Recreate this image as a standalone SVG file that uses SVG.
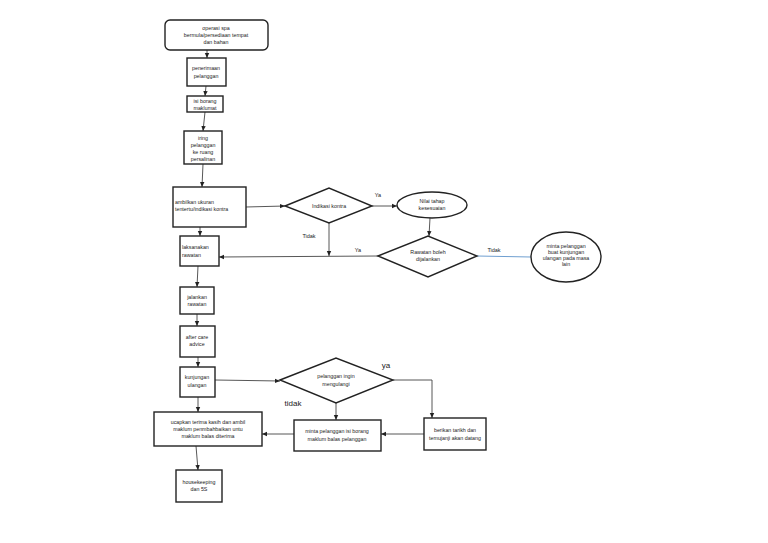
<svg xmlns="http://www.w3.org/2000/svg" width="768" height="543" viewBox="0 0 768 543">
<defs>
<style>
.n{fill:#fff;stroke:#222;stroke-width:1.4}
.t{font-family:"Liberation Sans",Arial,sans-serif;font-size:5.3px;fill:#222;text-anchor:middle}
.tl{font-family:"Liberation Sans",Arial,sans-serif;font-size:5.3px;fill:#222}
.lb{font-family:"Liberation Sans",Arial,sans-serif;font-size:5.5px;fill:#222;text-anchor:middle}
.lb2{font-family:"Liberation Sans",Arial,sans-serif;font-size:8px;fill:#222;text-anchor:middle}
.c{fill:none;stroke:#444;stroke-width:0.9}
</style>
<marker id="ah" markerWidth="6" markerHeight="6" refX="5" refY="3" orient="auto" markerUnits="userSpaceOnUse">
<path d="M0,0.8 L5,3 L0,5.2 z" fill="#222"/>
</marker>
</defs>
<rect width="768" height="543" fill="#fff"/>

<g id="connectors">
<line class="c" x1="207" y1="50" x2="207" y2="58" marker-end="url(#ah)"/>
<line class="c" x1="206" y1="86" x2="205" y2="96" marker-end="url(#ah)"/>
<line class="c" x1="205" y1="112" x2="203" y2="131" marker-end="url(#ah)"/>
<line class="c" x1="203" y1="164" x2="202" y2="187" marker-end="url(#ah)"/>
<line class="c" x1="200" y1="227" x2="200" y2="236" marker-end="url(#ah)"/>
<line class="c" x1="198" y1="266" x2="197" y2="287" marker-end="url(#ah)"/>
<line class="c" x1="197" y1="314" x2="197" y2="326" marker-end="url(#ah)"/>
<line class="c" x1="198" y1="357" x2="198" y2="367" marker-end="url(#ah)"/>
<line class="c" x1="198" y1="397" x2="198" y2="412" marker-end="url(#ah)"/>
<line class="c" x1="196" y1="446" x2="198" y2="470" marker-end="url(#ah)"/>
<line class="c" x1="246" y1="207" x2="285" y2="206" marker-end="url(#ah)"/>
<line class="c" x1="372" y1="206" x2="397" y2="206" marker-end="url(#ah)"/>
<line class="c" x1="430" y1="218" x2="429" y2="236" marker-end="url(#ah)"/>
<line class="c" x1="378" y1="256" x2="219" y2="257" marker-end="url(#ah)"/>
<line class="c" x1="329" y1="223" x2="329" y2="256" marker-end="url(#ah)"/>
<line x1="477" y1="256" x2="531" y2="257" stroke="#6f9fd0" stroke-width="1"/>
<line class="c" x1="215" y1="380" x2="280" y2="381" marker-end="url(#ah)"/>
<polyline class="c" points="393,380 432,380 432,418" marker-end="url(#ah)"/>
<line class="c" x1="336" y1="403" x2="336" y2="420" marker-end="url(#ah)"/>
<line class="c" x1="424" y1="434" x2="381" y2="434" marker-end="url(#ah)"/>
<line class="c" x1="294" y1="434" x2="262" y2="434" marker-end="url(#ah)"/>
</g>

<g id="labels">
<text class="lb" x="378" y="197">Ya</text>
<text class="lb" x="309" y="238">Tidak</text>
<text class="lb" x="358" y="252">Ya</text>
<text class="lb" x="494" y="252">Tidak</text>
<text class="lb2" x="386" y="368">ya</text>
<text class="lb2" x="293" y="406">tidak</text>
</g>

<g id="start">
<rect class="n" x="165" y="20" width="103" height="30" rx="5"/>
<text class="t" x="216" y="30">operasi  spa</text>
<text class="t" x="216" y="37">bermula/persediaan  tempat</text>
<text class="t" x="216" y="44">dan bahan</text>
</g>
<g id="penerimaan">
<rect class="n" x="187" y="58" width="39" height="28"/>
<text class="t" x="206" y="70">penerimaan</text>
<text class="t" x="206" y="78">pelanggan</text>
</g>
<g id="isiborang">
<rect class="n" x="187" y="96" width="36" height="16"/>
<text class="t" x="205" y="103">isi borang</text>
<text class="t" x="205" y="110">maklumat</text>
</g>
<g id="iring">
<rect class="n" x="184" y="131" width="38" height="33"/>
<text class="t" x="203" y="140">iring</text>
<text class="t" x="203" y="147">pelanggan</text>
<text class="t" x="203" y="154">ke ruang</text>
<text class="t" x="203" y="161">persalinan</text>
</g>
<g id="ambilkan">
<rect class="n" x="173" y="187" width="73" height="40"/>
<text class="tl" x="175" y="204">ambilkan  ukuran</text>
<text class="tl" x="175" y="211">tentertu/indikasi  kontra</text>
</g>
<g id="indikasi">
<polygon class="n" points="285,206 329,188 372,206 329,223"/>
<text class="t" x="329" y="208">Indikasi  kontra</text>
</g>
<g id="nilai">
<ellipse class="n" cx="432" cy="205" rx="35" ry="13"/>
<text class="t" x="432" y="203">Nilai tahap</text>
<text class="t" x="432" y="210">kesesuaian</text>
</g>
<g id="rawatanboleh">
<polygon class="n" points="378,256 428,236 477,256 428,277"/>
<text class="t" x="428" y="254">Rawatan  boleh</text>
<text class="t" x="428" y="261">dijalankan</text>
</g>
<g id="mintakunjungan">
<ellipse class="n" cx="566" cy="257" rx="35" ry="25"/>
<text class="t" x="566" y="248">minta pelanggan</text>
<text class="t" x="566" y="254">buat kunjungan</text>
<text class="t" x="566" y="260">ulangan pada masa</text>
<text class="t" x="566" y="266">lain</text>
</g>
<g id="laksanakan">
<rect class="n" x="180" y="236" width="39" height="30"/>
<text class="tl" x="182" y="249">laksanakan</text>
<text class="tl" x="182" y="257">rawatan</text>
</g>
<g id="jalankan">
<rect class="n" x="180" y="287" width="34" height="27"/>
<text class="t" x="197" y="299">jalankan</text>
<text class="t" x="197" y="306">rawatan</text>
</g>
<g id="aftercare">
<rect class="n" x="180" y="326" width="35" height="31"/>
<text class="t" x="197" y="339">after care</text>
<text class="t" x="197" y="346">advice</text>
</g>
<g id="kunjungan">
<rect class="n" x="180" y="367" width="35" height="30"/>
<text class="t" x="197" y="379">kunjungan</text>
<text class="t" x="197" y="387">ulangan</text>
</g>
<g id="ingin">
<polygon class="n" points="280,380 336,358 393,380 336,403"/>
<text class="t" x="336" y="378">pelanggan  ingin</text>
<text class="t" x="336" y="386">mengulangi</text>
</g>
<g id="berikan">
<rect class="n" x="424" y="418" width="62" height="32"/>
<text class="t" x="455" y="432">berikan tarikh dan</text>
<text class="t" x="455" y="440">temujanji akan datang</text>
</g>
<g id="mintaborang">
<rect class="n" x="294" y="420" width="87" height="31"/>
<text class="t" x="337" y="433">minta pelanggan isi borang</text>
<text class="t" x="337" y="441">maklum balas pelanggan</text>
</g>
<g id="ucapkan">
<rect class="n" x="154" y="412" width="108" height="34"/>
<text class="t" x="208" y="424">ucapkan terima kasih dan ambil</text>
<text class="t" x="208" y="431">maklum penmbahbaikan untu</text>
<text class="t" x="208" y="438">maklum balas  diterima</text>
</g>
<g id="housekeeping">
<rect class="n" x="176" y="470" width="46" height="32"/>
<text class="t" x="199" y="484">housekeeping</text>
<text class="t" x="199" y="491">dan 5S</text>
</g>
</svg>
